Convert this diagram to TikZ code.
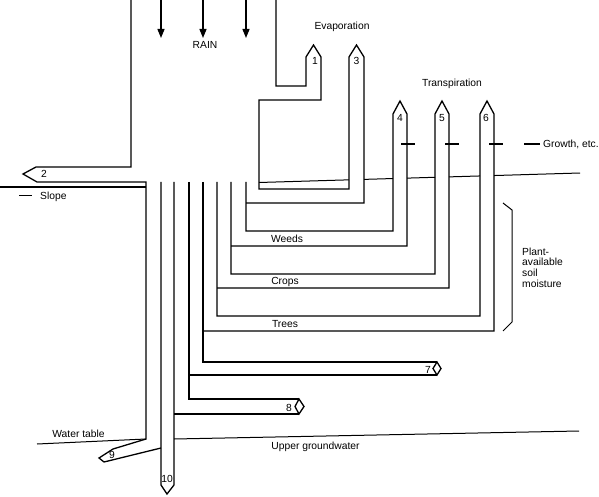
\documentclass[tikz,border=0pt]{standalone}
\usepackage{fontspec}
\setmainfont{Liberation Sans}
\usetikzlibrary{arrows.meta}
\begin{document}
\begin{tikzpicture}[x=1pt,y=-1pt,
  wall/.style={line width=1.3pt, line join=miter, miter limit=4},
  thinline/.style={line width=1pt},
  lbl/.style={font=\fontsize{10.3}{12}\selectfont, inner sep=0pt, anchor=base},
  rainarrow/.style={line width=1.3pt, -{Triangle[length=9pt,width=7pt]}}]
\useasboundingbox (0,0) rectangle (599,497);

% rain arrows
\coordinate (r1a) at (161,0); \coordinate (r1b) at (161,38);
\coordinate (r2a) at (203,0); \coordinate (r2b) at (203,38);
\coordinate (r3a) at (246,0); \coordinate (r3b) at (246,38);
\draw[rainarrow] (r1a) -- (r1b);
\draw[rainarrow] (r2a) -- (r2b);
\draw[rainarrow] (r3a) -- (r3b);
\node[lbl] (rain) at (205,49) {RAIN};

% outer left wall, arrow 2, slope channel 9
\draw[wall] (131,0) -- (131,167) -- (36,167) -- (23,174) -- (37,182) -- (146,182)
  -- (146,439) -- (113,449) -- (99,458) -- (104,462) -- (161,448);
\draw[wall] (0,187) -- (146,187);
\node[lbl] (n2) at (44,178) {2};
\draw[thinline] (19,195) -- (32,195);
\node[lbl, anchor=base west] (slope) at (40,199) {Slope};

% channel 10
\draw[wall] (161,182) -- (161,485) -- (167,494) -- (174,485) -- (174,182);
\node[lbl] (n10) at (167,482) {10};
\node[lbl] (n9) at (112,458) {9};

% channel 8
\draw[wall] (174,414) -- (299,414);
\draw[wall] (189,182) -- (189,399) -- (299,399);
\draw[wall] (299,399) -- (304,406.5) -- (299,414) -- (295,406.5) -- cycle;
\node[lbl] (n8) at (289,411) {8};

% channel 7
\draw[wall] (189,375) -- (437,375);
\draw[wall] (203,182) -- (203,362) -- (437,362);
\draw[wall] (437,362) -- (441,368.5) -- (437,375) -- (433,368.5) -- cycle;
\node[lbl] (n7) at (428,373) {7};

% trees channel 6
\draw[wall] (203,331) -- (494,331) -- (494,114) -- (487,101) -- (480,114) -- (480,316) -- (217,316) -- (217,182);
\node[lbl] (trees) at (285,327) {Trees};
\node[lbl] (n6) at (486,122) {6};

% crops channel 5
\draw[wall] (217,288) -- (449,288) -- (449,114) -- (442,101) -- (435,114) -- (435,274) -- (231,274) -- (231,182);
\node[lbl] (crops) at (285,284) {Crops};
\node[lbl] (n5) at (442,122) {5};

% weeds channel 4
\draw[wall] (231,246) -- (407,246) -- (407,114) -- (400,101) -- (393,114) -- (393,231) -- (246,231) -- (246,182);
\node[lbl] (weeds) at (287,242) {Weeds};
\node[lbl] (n4) at (400,122) {4};

% channel 3, box and channel 1
\draw[wall] (246,203) -- (364,203) -- (364,57) -- (356.5,45) -- (349,57) -- (349,189)
  -- (259,189) -- (259,100) -- (321,100) -- (321,57) -- (313.5,45) -- (306,57) -- (306,86)
  -- (276,86) -- (276,0);
\node[lbl] (n1) at (315,65) {1};
\node[lbl] (n3) at (356.5,65) {3};
\node[lbl] (evap) at (342,30) {Evaporation};
\node[lbl] (transp) at (452,87) {Transpiration};

% soil surface
\draw[thinline] (259,182.5) -- (349,179.84);
\draw[thinline] (364,179.39) -- (393,178.53);
\draw[thinline] (407,178.12) -- (435,177.29);
\draw[thinline] (449,176.88) -- (480,175.96);
\draw[thinline] (494,175.54) -- (580,173);

% growth marks
\draw[wall] (401,144) -- (415,144);
\draw[wall] (445,144) -- (459,144);
\draw[wall] (489,144) -- (503,144);
\draw[wall] (524,144) -- (540,144);
\node[lbl, anchor=base west] (growth) at (543,148) {Growth, etc.};

% plant-available soil moisture bracket
\draw[thinline] (503,203) -- (512,210) -- (512,322) -- (503,331);
\node[font=\fontsize{10.3}{10.7}\selectfont, inner sep=0pt, anchor=north west, align=left] (pasm) at (522,247.5) {Plant-\\available\\soil\\moisture};

% water table and groundwater
\draw[thinline] (37,444) -- (146,439);
\node[lbl] (wt) at (78.5,437) {Water table};
\draw[thinline] (174,439) -- (579,431);
\node[lbl] (ugw) at (315.5,449) {Upper groundwater};
\end{tikzpicture}
\end{document}
